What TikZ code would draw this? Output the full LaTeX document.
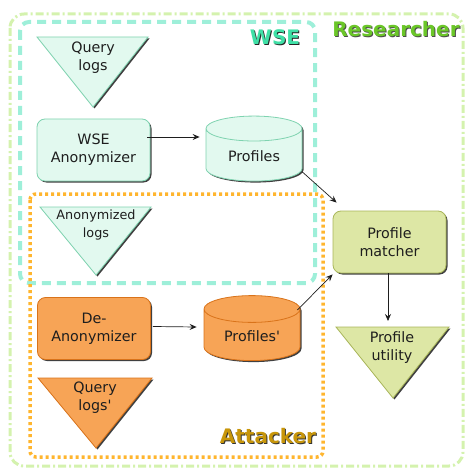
\documentclass[tikz,border=0pt]{standalone}
\usepackage{fontspec}
\setmainfont{DejaVu Sans}
\newfontfamily\plainq{DejaVu Sans}
\usetikzlibrary{shapes.geometric,shadows,arrows.meta,calc}
\definecolor{mintfill}{HTML}{E2F9EF}
\definecolor{mintdraw}{HTML}{7FD3B0}
\definecolor{orfill}{HTML}{F7A456}
\definecolor{ordraw}{HTML}{D9731A}
\definecolor{olfill}{HTML}{DDE7A5}
\definecolor{oldraw}{HTML}{A9B65A}
\definecolor{resframe}{HTML}{D4F2AE}
\definecolor{wseframe}{HTML}{9EEFD9}
\definecolor{attframe}{HTML}{FFB52E}
\definecolor{restext}{HTML}{6BC728}
\definecolor{wsetext}{HTML}{3FE0A6}
\definecolor{atttext}{HTML}{C8960A}
\definecolor{ink}{HTML}{1E1E1E}
\newcommand{\sq}{{\plainq\symbol{39}}}
\tikzset{
  shd/.style={drop shadow={shadow xshift=1.5pt,shadow yshift=-1.5pt,fill=black!75,opacity=1}},
  boxnode/.style={rounded corners=8pt,minimum width=113pt,minimum height=62pt,align=center,
    font=\fontsize{14.3}{18}\selectfont,text=ink,line width=0.8pt,shd},
  cyl/.style={cylinder,shape border rotate=90,aspect=0.48,minimum width=96pt,minimum height=65pt,
    font=\fontsize{14.3}{18}\selectfont,text=ink,line width=0.8pt,shd,inner sep=0pt},
  tri/.style={line width=0.8pt,shd},
  tritext/.style={align=center,font=\fontsize{14.3}{18}\selectfont,text=ink,inner sep=0pt},
  mint/.style={fill=mintfill,draw=mintdraw},
  oran/.style={fill=orfill,draw=ordraw},
  oliv/.style={fill=olfill,draw=oldraw},
  conn/.style={-{Stealth[length=7pt,width=6pt,inset=2.5pt]},line width=0.7pt,draw=ink},
  title/.style={font=\fontsize{20}{24}\selectfont\bfseries,inner sep=0pt},
}
\begin{document}
\begin{tikzpicture}[x=1pt,y=-1pt]
\useasboundingbox (0,0) rectangle (474,476);
% frames
\draw[resframe,line width=3pt,rounded corners=14pt,dash pattern=on 8pt off 3pt on 2pt off 3pt] (10,14) rectangle (463,466);
\draw[wseframe,line width=4pt,rounded corners=9pt,dash pattern=on 9pt off 6pt] (20,22) rectangle (315,283);
\draw[attframe,line width=3.5pt,rounded corners=6pt,dash pattern=on 3pt off 3pt] (30,194) rectangle (323,457);
% titles
\node[title,text=black!85] (wseS) at (276,38) {WSE};
\node[title,text=wsetext] (wse) at (275,37) {WSE};
\node[title,text=black!70] (resS) at (397,30) {Researcher};
\node[title,text=restext] (res) at (396,29) {Researcher};
\node[title,text=black!80] (attS) at (269,437) {Attacker};
\node[title,text=atttext] (att) at (268,436) {Attacker};
% triangles
\draw[tri,mint] (37,37) -- (148,37) -- (93,107) -- cycle;
\node[tritext] (ql) at (93,58) {Query\\logs};
\draw[tri,mint] (40,207) -- (151,207) -- (96,275) -- cycle;
\node[tritext,font=\fontsize{12.8}{18}\selectfont] (al) at (96,225) {Anonymized\\logs};
\draw[tri,oran] (38,378) -- (152,378) -- (96,448) -- cycle;
\node[tritext] (qlp) at (95,398) {Query\\logs\sq};
\draw[tri,oliv] (336,327) -- (449,327) -- (393,398) -- cycle;
\node[tritext] (pu) at (392,348) {Profile\\utility};
\coordinate (putop) at (388,321);
% boxes
\node[boxnode,mint] (anon) at (93.5,150) {WSE\\Anonymizer};
\node[boxnode,oran] (deanon) at (94,328.5) {De-\\Anonymizer};
\node[boxnode,oliv] (match) at (389.5,242) {Profile\\matcher};
\node[cyl,mint] (prof) at (254,155) {\raisebox{-6pt}[0pt][0pt]{Profiles}};
\node[cyl,oran] (prof2) at (252,335) {\raisebox{-6pt}[0pt][0pt]{Profiles\sq}};
% connectors
\draw[conn] ($(anon.east)+(-3,-13)$) -- ($(prof.west)+(-6,-18)$);
\draw[conn] ($(deanon.east)+(2,-2)$) -- ($(prof2.west)+(-7,-8)$);
\draw[conn] ($(prof.east)+(0,17)$) -- ($(match.north west)+(4,-8)$);
\draw[conn] ($(prof2.east)+(-3,-25)$) -- ($(match.south west)+(0,1)$);
\draw[conn] (match.south -| putop) -- (putop);
\end{tikzpicture}
\end{document}
